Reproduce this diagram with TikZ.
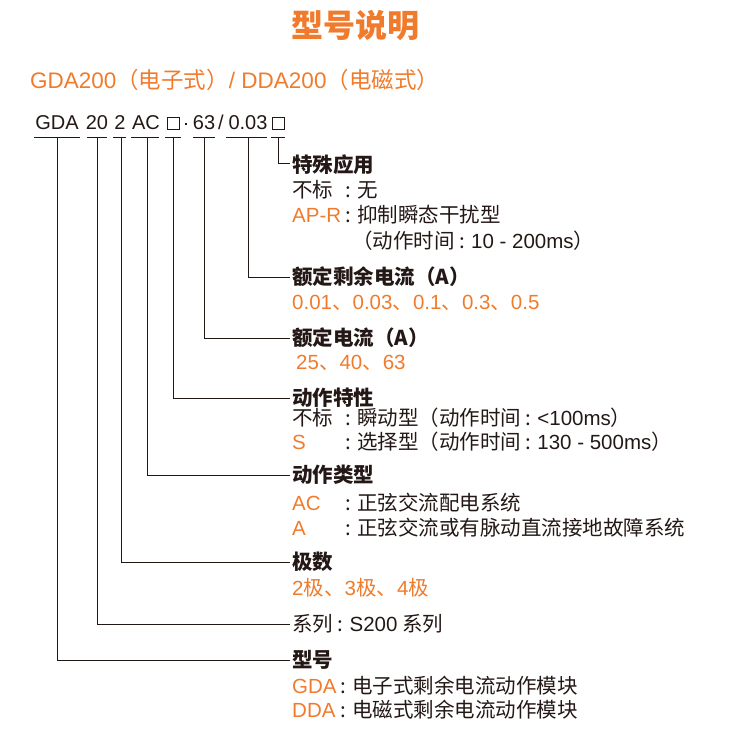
\documentclass[tikz,border=0pt]{standalone}
\usepackage{fontspec}
\setmainfont{Noto Sans CJK SC}
\newfontfamily\lat{Liberation Sans}
\definecolor{org}{HTML}{F07B2C}
\definecolor{ink}{HTML}{231815}
\begin{document}
\begin{tikzpicture}[x=1pt,y=-1pt,
  t/.style={anchor=base west,inner sep=0,text=ink,font=\fontsize{20.5}{22}\selectfont},
  h/.style={t,font=\fontsize{20.5}{22}\selectfont\bfseries},
  o/.style={t,text=org,font=\fontsize{20.5}{22}\selectfont\lat},
  cd/.style={anchor=base,inner sep=0,text=ink,font=\fontsize{20}{22}\selectfont\lat},
  ln/.style={draw=ink,line width=0.8pt}]
\useasboundingbox (0,0) rectangle (750,754);
\node[anchor=base,inner sep=0,text=org,font=\fontsize{32}{34}\selectfont\bfseries] (title) at (355,38) {型号说明};
\node[anchor=base west,inner sep=0,text=org,font=\fontsize{22.5}{24}\selectfont] (sub) at (30,89) {{\lat GDA200}（电子式）{\lat / DDA200}（电磁式）};
% code
\node[cd] (c1) at (57,130) {GDA};
\node[cd] (c2) at (97,130) {20};
\node[cd] (c3) at (120,130) {2};
\node[cd] (c4) at (146,130) {AC};
\node[draw=ink,line width=0.7pt,minimum size=12pt,inner sep=0] (c5) at (173,123) {};
\node[fill=ink,minimum size=2.5pt,inner sep=0] (dot) at (186,124) {};
\node[cd] (c6) at (204,130) {63};
\node[cd] (sl) at (221,130) {/};
\node[cd] (c7) at (248,130) {0.03};
\node[draw=ink,line width=0.7pt,minimum size=12pt,inner sep=0] (c8) at (278,123) {};
% underlines
\foreach \a/\b in {34/80,87/107,113/126,131/159,165/181,193/215,226/267,271/285}
  \draw[ln] (\a,137) -- (\b,137);
% branches
\foreach \n/\x/\y in {b8/278/163,b7/248/277,b6/204/338,b5/173/398,b4/147/475,b3/121/562,b2/97/624,b1/57/660}{
  \coordinate (\n s) at (\x,137);
  \coordinate (\n e) at (290,\y);
  \draw[ln] (\n s) |- (\n e);
}
% texts
\node[h] (h8) at (292,172) {特殊应用};
\node[t] at (292,197) {不标};
\node[t] at (345,197) {: 无};
\node[o] at (292,222) {AP-R};
\node[t] at (345,222) {: 抑制瞬态干扰型};
\node[t] at (352,248) {（动作时间 : {\lat 10 - 200ms}）};
\node[h] (h7) at (292,284) {额定剩余电流（A）};
\node[o] at (292,309) {0.01{\rmfamily\color{org}、}0.03{\rmfamily\color{org}、}0.1{\rmfamily\color{org}、}0.3{\rmfamily\color{org}、}0.5};
\node[h] (h6) at (292,345) {额定电流（A）};
\node[o] at (296,369) {25{\rmfamily、}40{\rmfamily、}63};
\node[h] (h5) at (292,405) {动作特性};
\node[t] at (292,425) {不标};
\node[t] at (345,425) {: 瞬动型（动作时间 : {\lat <100ms}）};
\node[o] at (292,449) {S};
\node[t] at (345,449) {: 选择型（动作时间 : {\lat 130 - 500ms}）};
\node[h] (h4) at (292,482) {动作类型};
\node[o] at (292,510) {AC};
\node[t] at (345,510) {: 正弦交流配电系统};
\node[o] at (292,535) {A};
\node[t] at (345,535) {: 正弦交流或有脉动直流接地故障系统};
\node[h] (h3) at (292,569) {极数};
\node[o] at (292,595) {2{\rmfamily 极、}3{\rmfamily 极、}4{\rmfamily 极}};
\node[t] (h2) at (292,631) {系列 : {\lat S200} 系列};
\node[h] (h1) at (292,667) {型号};
\node[o] at (292,693) {GDA};
\node[t] at (340,693) {: 电子式剩余电流动作模块};
\node[o] at (292,717) {DDA};
\node[t] at (340,717) {: 电磁式剩余电流动作模块};
\end{tikzpicture}
\end{document}
